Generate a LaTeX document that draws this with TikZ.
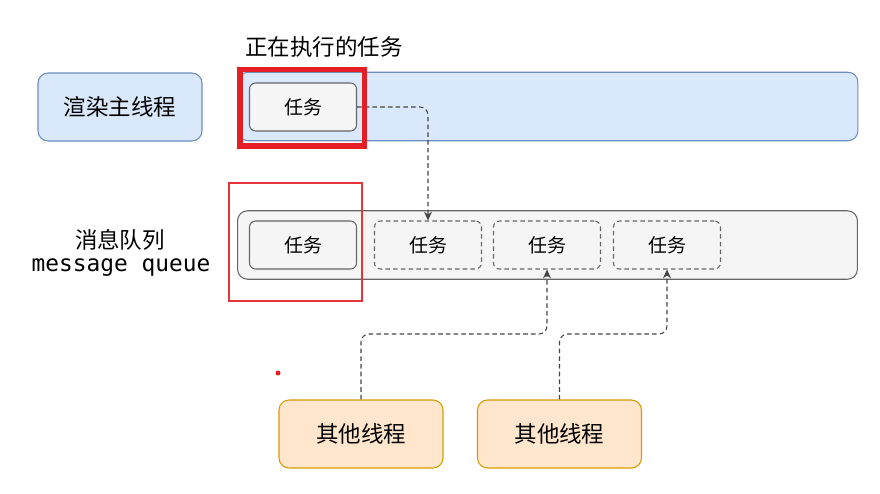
\documentclass[tikz,border=0pt]{standalone}
\usepackage{fontspec}
\newfontfamily\cjk{Noto Sans CJK SC}
\newfontfamily\monofont{DejaVu Sans Mono}
\usetikzlibrary{positioning, calc, arrows.meta}

\definecolor{blueFill}{HTML}{DAE8FC}
\definecolor{blueLine}{HTML}{6C8EBF}
\definecolor{grayFill}{HTML}{F5F5F5}
\definecolor{grayLine}{HTML}{666666}
\definecolor{orangeFill}{HTML}{FFE6CC}
\definecolor{orangeLine}{HTML}{D79B00}
\definecolor{markRed}{HTML}{E31E24}
\definecolor{flowGray}{HTML}{454545}

\begin{document}
\begin{tikzpicture}[x=0.02cm, y=-0.02cm,
    thread/.style={draw=blueLine, fill=blueFill, line width=0.6pt, rounded corners=0.2cm,
      minimum width=3.28cm, minimum height=1.36cm, font=\cjk\fontsize{12.8}{14}\selectfont},
    bar/.style={line width=0.6pt, rounded corners=0.2cm, minimum width=12.4cm, minimum height=1.37cm},
    task/.style={draw=grayLine, fill=grayFill, line width=0.6pt, rounded corners=0.12cm,
      minimum width=2.14cm, minimum height=0.96cm, font=\cjk\fontsize{10.8}{12}\selectfont},
    waiting/.style={task, dash pattern=on 2.6pt off 1.8pt},
    other/.style={draw=orangeLine, fill=orangeFill, line width=0.6pt, rounded corners=0.2cm,
      minimum width=3.28cm, minimum height=1.36cm, font=\cjk\fontsize{12.8}{14}\selectfont},
    flow/.style={draw=flowGray, line width=0.6pt, dash pattern=on 2.6pt off 1.8pt,
      rounded corners=0.16cm, -{Stealth[length=5pt, width=4.5pt]}}]
  \useasboundingbox (0,0) rectangle (880,494);
  % main thread
  \node[thread] (render) at (120,107) {渲染主线程};
  \node[bar, draw=blueLine, fill=blueFill] (mainbar) at (548,106.5) {};
  \node[task] (mtask) at (303,107) {任务};
  \node[font=\cjk\fontsize{12.8}{14}\selectfont] (running) at (324,47) {正在执行的任务};
  % message queue
  \node[bar, draw=grayLine, fill=grayFill] (queue) at (547.5,245) {};
  \node[font=\cjk\fontsize{12.8}{14}\selectfont] (qname) at (120,240) {消息队列};
  \node[font=\monofont\fontsize{13}{14}\selectfont] (qname2) at (121,268) {message queue};
  \node[task] (qtask1) at (303,245) {任务};
  \node[waiting] (qtask2) at (428,245) {任务};
  \node[waiting] (qtask3) at (547,245) {任务};
  \node[waiting] (qtask4) at (667,245) {任务};
  % other threads
  \node[other] (other1) at (361,434) {其他线程};
  \node[other] (other2) at (559.5,434) {其他线程};
  % connectors
  \draw[flow] (mtask.east) -| (qtask2.north);
  \coordinate (bend1) at (qtask3.south |- 0,334);
  \coordinate (bend2) at (qtask4.south |- 0,334);
  \draw[flow] (other1.north) |- (bend1) -- (qtask3.south);
  \draw[flow] (other2.north) |- (bend2) -- (qtask4.south);
  % highlights
  \draw[markRed, line width=3.1pt] (240,69.5) rectangle (364.5,146);
  \draw[markRed!90!white, line width=0.9pt] (229,183) rectangle (362,301);
  \fill[markRed] (278,373) circle (2.5);
\end{tikzpicture}
\end{document}
